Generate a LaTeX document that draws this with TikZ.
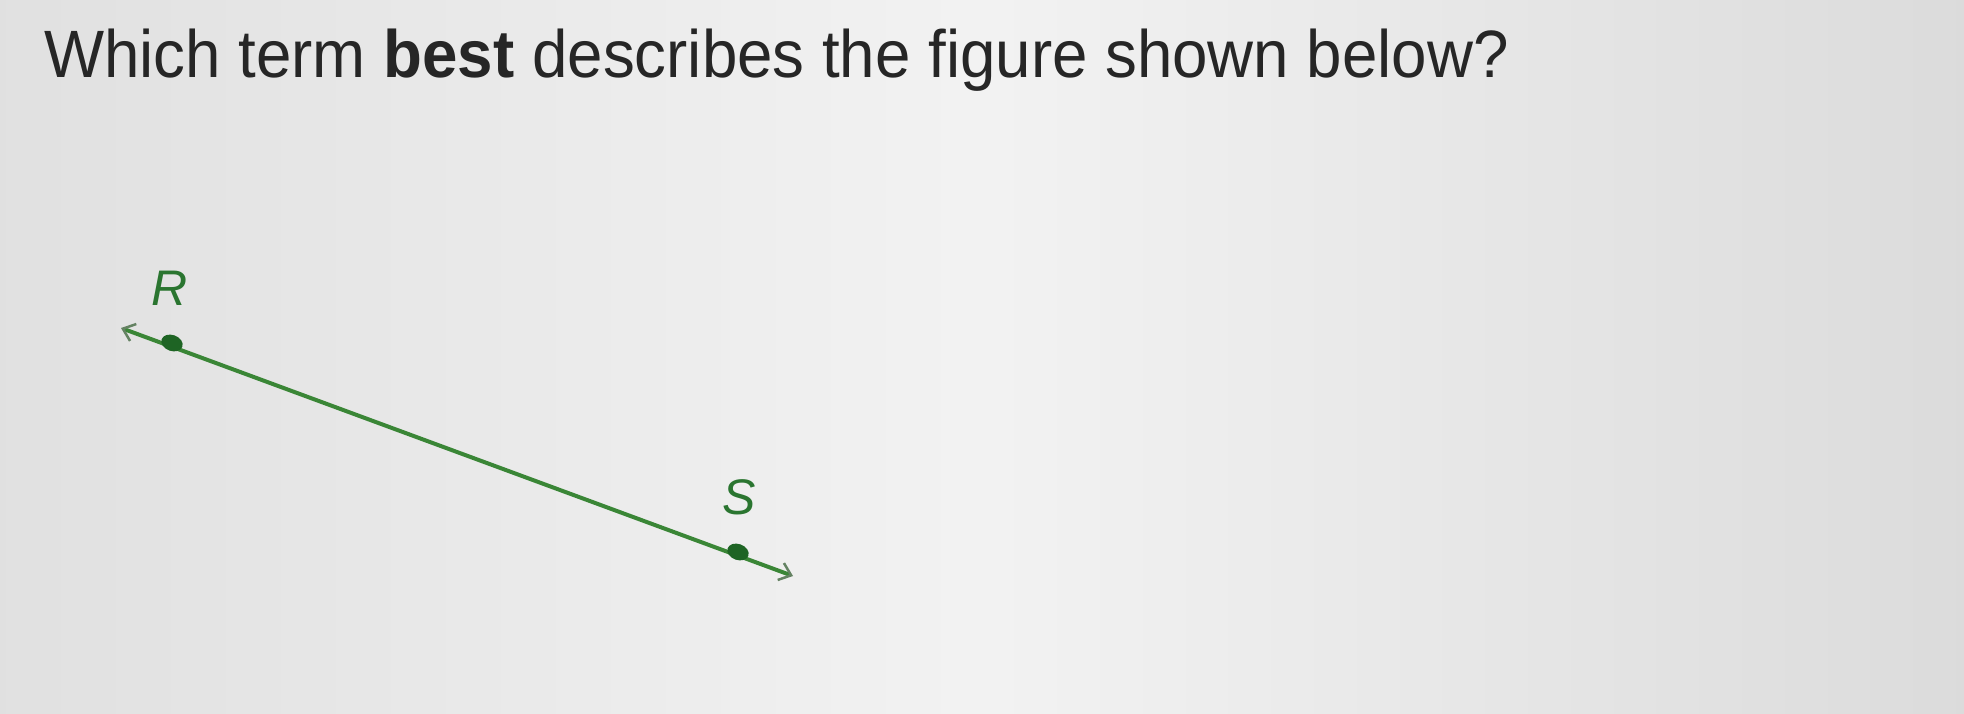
\documentclass[tikz,border=0pt]{standalone}
\usepackage{fontspec}
\setmainfont{Liberation Sans}
\usetikzlibrary{arrows.meta}
\definecolor{linegreen}{HTML}{3A8636}
\definecolor{dotgreen}{HTML}{1E6424}
\definecolor{labelgreen}{HTML}{2A7530}
\definecolor{txt}{HTML}{262626}
\tikzset{
  question/.style={anchor=base west, inner sep=0pt, text=txt, xscale=0.95, font=\fontsize{67}{78}\selectfont},
  ptlabel/.style={inner sep=0pt, text=labelgreen, font=\fontsize{50}{58}\selectfont\itshape},
  ptdot/.style={ellipse, fill=dotgreen, inner sep=0pt, minimum width=22pt, minimum height=16pt, rotate=-20},
  linestyle/.style={draw=linegreen, line width=4pt, {Straight Barb[length=11pt,width=18pt,line width=2.5pt,color=gray!60!linegreen]}-{Straight Barb[length=11pt,width=18pt,line width=2.5pt,color=gray!60!linegreen]}}
}
\usetikzlibrary{shapes.geometric}
\begin{document}
\begin{tikzpicture}[x=1pt,y=-1pt]
  \shade[left color=gray!24, right color=gray!28, middle color=gray!10] (0,0) rectangle (1964,714);
  \useasboundingbox (0,0) rectangle (1964,714);
  \node[question] (q) at (44,78) {Which term \textbf{best} describes the figure shown below?};
  \coordinate (a1) at (121,328);
  \coordinate (a2) at (793,576);
  \draw[linestyle] (a1) -- (a2);
  \node[ptdot] (R) at (172,343) {};
  \node[ptdot] (S) at (738,552) {};
  \node[ptlabel] (Rl) at (170,288) {R};
  \node[ptlabel] (Sl) at (739,497) {S};
\end{tikzpicture}
\end{document}
